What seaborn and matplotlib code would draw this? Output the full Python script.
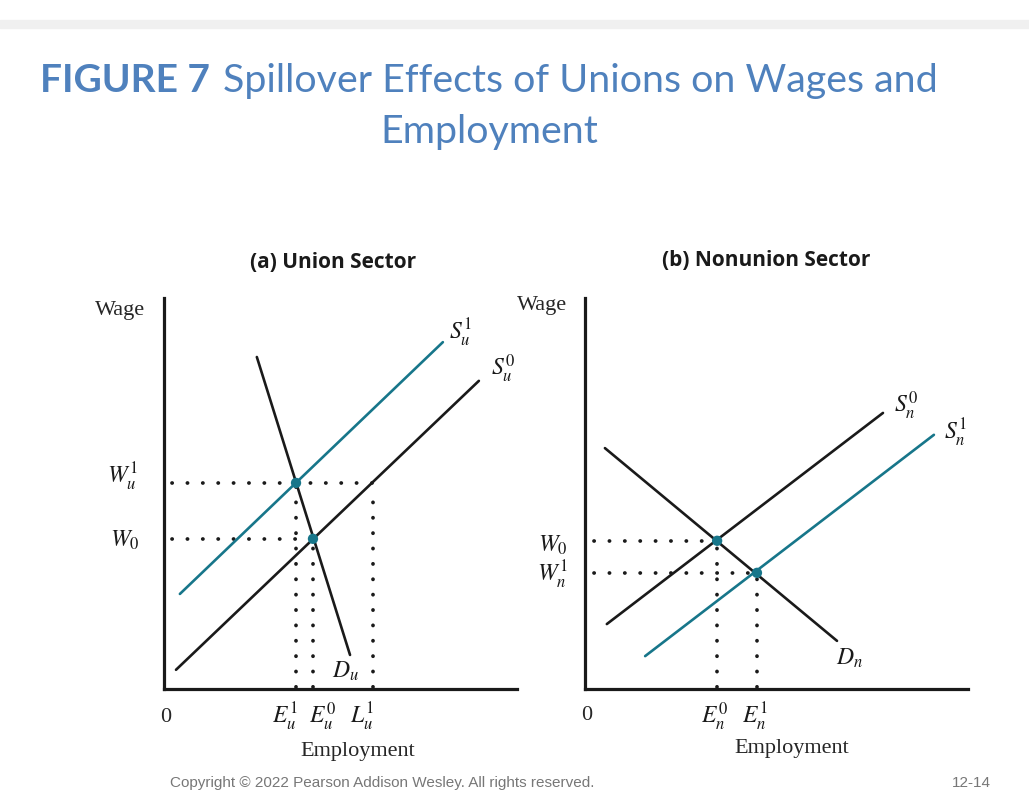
import seaborn as sns
import matplotlib.pyplot as plt
from matplotlib.patches import Rectangle

sns.set_style("white")
plt.rcParams["mathtext.fontset"] = "stix"
plt.rcParams["font.family"] = ["Liberation Serif", "DejaVu Serif"]

# ---- data (axis units 0..10 on both panels) ----
# (a) union sector
union_s1_x = [0.45, 7.90]
union_s1_y = [2.43, 8.87]
union_s0_x = [0.34, 8.92]
union_s0_y = [0.49, 7.88]
union_d_x = [2.63, 5.27]
union_d_y = [8.49, 0.87]
union_wage = [5.27, 3.84]        # W_u^1, W_0
union_emp = [3.74, 4.22, 5.92]   # E_u^1, E_u^0, L_u^1

# (b) nonunion sector
non_s0_x = [0.57, 7.78]
non_s0_y = [1.66, 7.06]
non_s1_x = [1.57, 9.11]
non_s1_y = [0.84, 6.50]
non_d_x = [0.52, 6.58]
non_d_y = [6.16, 1.23]
non_wage = [3.79, 2.97]          # W_0, W_n^1
non_emp = [3.45, 4.49]           # E_n^0, E_n^1

TEAL = "#17768A"
INK = "#1a1a1a"
BLUE = "#4F81BD"

fig = plt.figure(figsize=(10.29, 7.91), dpi=100)
fig.patches.append(Rectangle((0, 0.9646), 1, 0.0101, transform=fig.transFigure,
                             color="#f0f0f0", zorder=0))

# title
fig.text(40 / 1029, 0.8837, "FIGURE 7", family="Lato", weight="bold",
         fontsize=28, color=BLUE, va="baseline")
fig.text(223 / 1029, 0.8837, "Spillover Effects of Unions on Wages and", family="Lato",
         fontsize=28.4, color=BLUE, va="baseline")
fig.text(489 / 1029, 0.8192, "Employment", family="Lato", fontsize=28.4,
         color=BLUE, va="baseline", ha="center")

fig.text(170 / 1029, 0.001, "Copyright \u00a9 2022 Pearson Addison Wesley. All rights reserved.",
         family="Liberation Sans", fontsize=11, color="#777777", va="bottom")
fig.text(952 / 1029, 0.001, "12-14", family="Liberation Sans", fontsize=11,
         color="#777777", va="bottom")

ax_a = fig.add_axes([164 / 1029, 0.1290, 353 / 1029, 0.4943])
ax_b = fig.add_axes([585 / 1029, 0.1290, 383 / 1029, 0.4943])

for ax in (ax_a, ax_b):
    ax.set_xlim(0, 10)
    ax.set_ylim(0, 10)
    ax.set_xticks([])
    ax.set_yticks([])
    sns.despine(ax=ax)
    for s in ("left", "bottom"):
        ax.spines[s].set_linewidth(2.3)
        ax.spines[s].set_color(INK)
    ax.patch.set_alpha(0)

dot_style = dict(color=INK, lw=2.7, linestyle=(0, (0.05, 4.05)), solid_capstyle="round",
                 dash_capstyle="round", zorder=1)
curve = dict(lw=1.9, sort=False, estimator=None, zorder=2)
math = dict(fontsize=17, color=INK)
panel_title = dict(family="Open Sans", weight="bold", fontsize=15, ha="center",
                   va="center", color=INK)

# ---- panel (a) ----
ax = ax_a
sns.lineplot(x=union_s1_x, y=union_s1_y, ax=ax, color=TEAL, **curve)
sns.lineplot(x=union_s0_x, y=union_s0_y, ax=ax, color=INK, **curve)
sns.lineplot(x=union_d_x, y=union_d_y, ax=ax, color=INK, **curve)
ax.plot([0.23, union_emp[2]], [union_wage[0]] * 2, **dot_style)
ax.plot([0.23, union_emp[1]], [union_wage[1]] * 2, **dot_style)
ax.plot([union_emp[0]] * 2, [0.05, union_wage[0]], **dot_style)
ax.plot([union_emp[1]] * 2, [0.05, union_wage[1]], **dot_style)
ax.plot([union_emp[2]] * 2, [0.05, union_wage[0] - 0.2], **dot_style)
sns.scatterplot(x=union_emp[:2], y=union_wage, ax=ax, color=TEAL, s=55,
                edgecolor="none", zorder=3)

ax.text(-1.25, 9.69, "Wage", fontsize=16, ha="center", va="center", clip_on=False)
ax.text(-1.19, 5.42, r"$W_u^1$", ha="center", va="center", **math)
ax.text(-1.10, 3.79, r"$W_0$", ha="center", va="center", **math)
ax.text(0.06, -0.72, "0", fontsize=16, ha="center", va="center")
ax.text(3.43, -0.72, r"$E_u^1$", ha="center", va="center", **math)
ax.text(4.50, -0.72, r"$E_u^0$", ha="center", va="center", **math)
ax.text(5.61, -0.72, r"$L_u^1$", ha="center", va="center", **math)
ax.text(5.50, -1.59, "Employment", fontsize=16, ha="center", va="center")
ax.text(8.41, 9.10, r"$S_u^1$", ha="center", va="center", **math)
ax.text(9.60, 8.18, r"$S_u^0$", ha="center", va="center", **math)
ax.text(5.13, 0.46, r"$D_u$", ha="center", va="center", **math)
ax.text(4.79, 10.90, "(a) Union Sector", **panel_title)

# ---- panel (b) ----
ax = ax_b
sns.lineplot(x=non_s0_x, y=non_s0_y, ax=ax, color=INK, **curve)
sns.lineplot(x=non_s1_x, y=non_s1_y, ax=ax, color=TEAL, **curve)
sns.lineplot(x=non_d_x, y=non_d_y, ax=ax, color=INK, **curve)
ax.plot([0.23, non_emp[0]], [non_wage[0]] * 2, **dot_style)
ax.plot([0.23, non_emp[1]], [non_wage[1]] * 2, **dot_style)
ax.plot([non_emp[0]] * 2, [0.05, non_wage[0]], **dot_style)
ax.plot([non_emp[1]] * 2, [0.05, non_wage[1]], **dot_style)
sns.scatterplot(x=non_emp, y=non_wage, ax=ax, color=TEAL, s=55,
                edgecolor="none", zorder=3)

ax.text(-1.12, 9.80, "Wage", fontsize=16, ha="center", va="center", clip_on=False)
ax.text(-0.84, 3.68, r"$W_0$", ha="center", va="center", **math)
ax.text(-0.84, 2.92, r"$W_n^1$", ha="center", va="center", **math)
ax.text(0.05, -0.69, "0", fontsize=16, ha="center", va="center")
ax.text(3.39, -0.72, r"$E_n^0$", ha="center", va="center", **math)
ax.text(4.44, -0.72, r"$E_n^1$", ha="center", va="center", **math)
ax.text(5.40, -1.53, "Employment", fontsize=16, ha="center", va="center")
ax.text(8.38, 7.24, r"$S_n^0$", ha="center", va="center", **math)
ax.text(9.66, 6.55, r"$S_n^1$", ha="center", va="center", **math)
ax.text(6.92, 0.79, r"$D_n$", ha="center", va="center", **math)
ax.text(4.73, 10.97, "(b) Nonunion Sector", **panel_title)

fig.savefig("out.png", dpi=100)
